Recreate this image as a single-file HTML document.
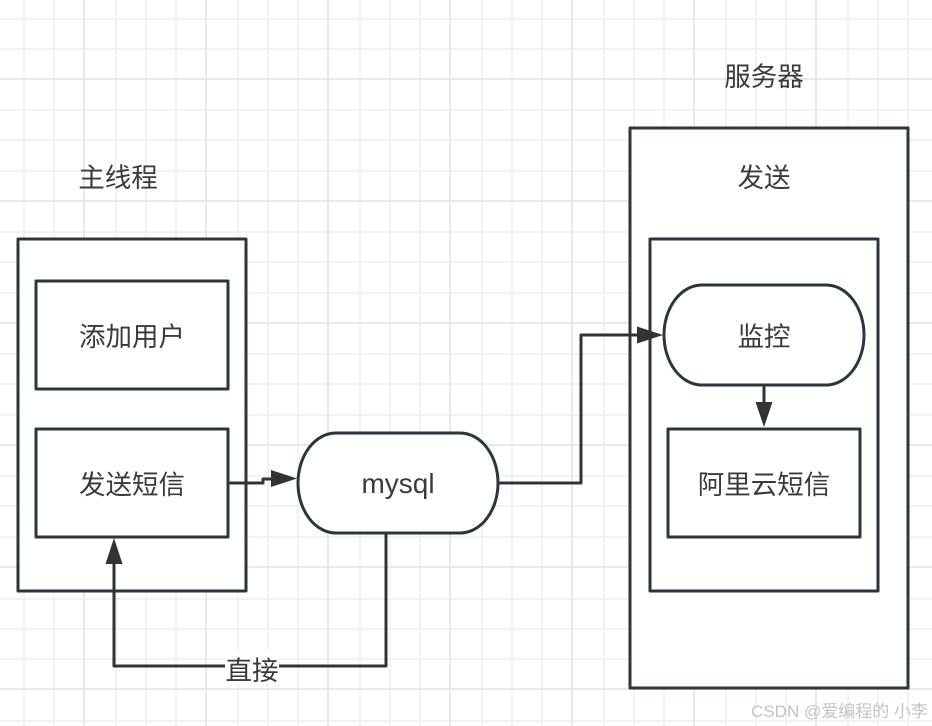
<!DOCTYPE html>
<html lang="zh"><head><meta charset="utf-8"><style>
html,body{margin:0;padding:0;background:#fff;width:932px;height:726px;overflow:hidden}
svg{display:block}
text{font-family:"Liberation Sans","Noto Sans CJK SC",sans-serif;font-size:26.5px;fill:#3a3a3a;text-anchor:middle}
.b{fill:#fff;stroke:#2c363e;stroke-width:3;stroke-linejoin:round}
.l{fill:none;stroke:#333;stroke-width:3;stroke-linejoin:round}
.a{fill:#333}
</style></head><body>
<svg width="932" height="726" viewBox="0 0 932 726" xmlns="http://www.w3.org/2000/svg">
<rect width="932" height="726" fill="#fff"/>
<path stroke="#f2f2f2" stroke-width="2" fill="none" d="M24 0V726M54 0V726M116 0V726M146 0V726M176 0V726M238 0V726M268 0V726M298 0V726M360 0V726M390 0V726M420 0V726M482 0V726M512 0V726M542 0V726M604 0V726M634 0V726M664 0V726M726 0V726M756 0V726M786 0V726M848 0V726M878 0V726M908 0V726M0 19H932M0 49H932M0 110H932M0 140H932M0 171H932M0 232H932M0 262H932M0 293H932M0 354H932M0 384H932M0 415H932M0 476H932M0 506H932M0 537H932M0 599H932M0 629H932M0 659H932M0 721H932"/>
<path stroke="#e8e8e8" stroke-width="2" fill="none" d="M84 0V726M206 0V726M328 0V726M450 0V726M572 0V726M694 0V726M816 0V726M0 79H932M0 201H932M0 323H932M0 445H932M0 567H932M0 689H932"/>
<rect class="b" x="18" y="239" width="228" height="352"/>
<rect class="b" x="36" y="281" width="192" height="108"/>
<rect class="b" x="36" y="429" width="192" height="108"/>
<rect class="b" x="630" y="128" width="278" height="560"/>
<rect class="b" x="650" y="239" width="228" height="352"/>
<rect class="b" x="668" y="429" width="192" height="108"/>
<path class="l" d="M228 483H263V479H272"/>
<path class="a" d="M271 470L297 478.5L271 487Z"/>
<path class="l" d="M386 533V666H114V564"/>
<path class="a" d="M114 538L122.5 564H105.5Z"/>
<path class="l" d="M498 483H581V335H640"/>
<path class="a" d="M637 326.5L663 335L637 343.5Z"/>
<path class="l" d="M764 385V404"/>
<path class="a" d="M764 427L755.5 402H772.5Z"/>
<rect class="b" x="298" y="433" width="200" height="100" rx="38" ry="50"/>
<rect class="b" x="664" y="285" width="200" height="100" rx="38" ry="50"/>
<rect x="225" y="650" width="54" height="34" fill="#fff"/>
<text x="118" y="187">主线程</text>
<text x="764" y="86">服务器</text>
<text x="764" y="187">发送</text>
<text x="132" y="346">添加用户</text>
<text x="132" y="494">发送短信</text>
<text x="398" y="493" style="font-size:28px">mysql</text>
<text x="764" y="346">监控</text>
<text x="764" y="494">阿里云短信</text>
<text x="252" y="680">直接</text>
<text x="839.5" y="717" style="font-size:17px;fill:#c4c4c4">CSDN @爱编程的 小李</text>
</svg>
</body></html>
